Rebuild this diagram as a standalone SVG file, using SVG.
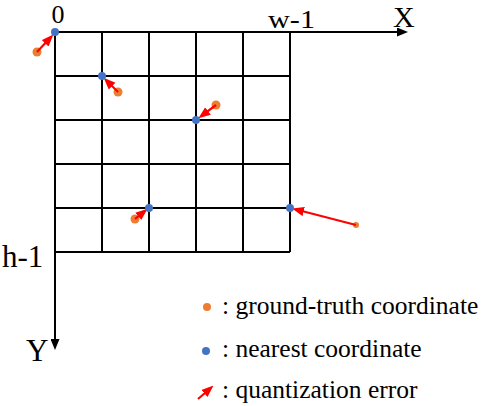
<svg xmlns="http://www.w3.org/2000/svg" width="482" height="406" viewBox="0 0 482 406">
<defs>
<style>
.grid{stroke:#000;stroke-width:2;fill:none}
.axis{stroke:#000;stroke-width:2;fill:none}
.err{stroke:#f00;stroke-width:2.2;fill:none}
.gt{fill:#ED7D31}
.nc{fill:#4472C4}
.t{font-family:"Liberation Serif","Times New Roman",serif;fill:#000}
</style>
<marker id="ah" markerUnits="userSpaceOnUse" markerWidth="12" markerHeight="10" refX="3" refY="5" orient="auto">
<path d="M0,0.3 L12,5 L0,9.7 z" fill="#f00"/>
</marker>
<marker id="axh" markerUnits="userSpaceOnUse" markerWidth="11" markerHeight="9" refX="1" refY="4.5" orient="auto">
<path d="M0,0 L11,4.5 L0,9 z" fill="#000"/>
</marker>
</defs>
<g id="grid">
<path class="grid" d="M102,32V252M149,32V252M196,32V252M243,32V252M290,32V252M55,76H290M55,120H290M55,164H290M55,208H290M55,252H290"/>
</g>
<g id="axes">
<line class="axis" x1="54" y1="32" x2="398" y2="32" marker-end="url(#axh)"/>
<line class="axis" x1="55" y1="31" x2="55" y2="340" marker-end="url(#axh)"/>
<text class="t" x="58" y="23" font-size="26" text-anchor="middle">0</text>
<text class="t" x="268" y="28" font-size="26" textLength="47" lengthAdjust="spacingAndGlyphs">w-1</text>
<text class="t" x="393" y="27" font-size="30">X</text>
<text class="t" x="2" y="267" font-size="31">h-1</text>
<text class="t" x="26" y="361" font-size="31">Y</text>
</g>
<g id="ground-truth">
<circle class="gt" cx="37" cy="52" r="4.5"/>
<circle class="gt" cx="118" cy="92" r="4.5"/>
<circle class="gt" cx="216" cy="105" r="4.5"/>
<circle class="gt" cx="135" cy="219" r="4.5"/>
<circle class="gt" cx="356" cy="225" r="3"/>
</g>
<g id="connectors">
<line class="err" x1="37" y1="52" x2="47.2" y2="41.1" marker-end="url(#ah)"/>
<line class="err" x1="118" y1="92" x2="110" y2="84" marker-end="url(#ah)"/>
<line class="err" x1="216" y1="105" x2="205.6" y2="112.8" marker-end="url(#ah)"/>
<line class="err" x1="135" y1="219" x2="140.6" y2="214.4" marker-end="url(#ah)"/>
<line class="err" x1="356" y1="225" x2="300.8" y2="210.8" marker-end="url(#ah)"/>
</g>
<g id="nearest">
<circle class="nc" cx="55" cy="32" r="4"/>
<circle class="nc" cx="102" cy="76" r="4"/>
<circle class="nc" cx="196" cy="120" r="4"/>
<circle class="nc" cx="149" cy="208" r="4"/>
<circle class="nc" cx="290" cy="208" r="4"/>
</g>
<g id="legend">
<circle class="gt" cx="207" cy="307" r="4"/>
<text class="t" x="222" y="314" font-size="25.5">: ground-truth coordinate</text>
<circle class="nc" cx="206" cy="351" r="4"/>
<text class="t" x="222" y="357" font-size="25.5">: nearest coordinate</text>
<line class="err" x1="198" y1="399" x2="206.7" y2="391.5" marker-end="url(#ah)"/>
<text class="t" x="222" y="398" font-size="25.5">: quantization error</text>
</g>
</svg>
